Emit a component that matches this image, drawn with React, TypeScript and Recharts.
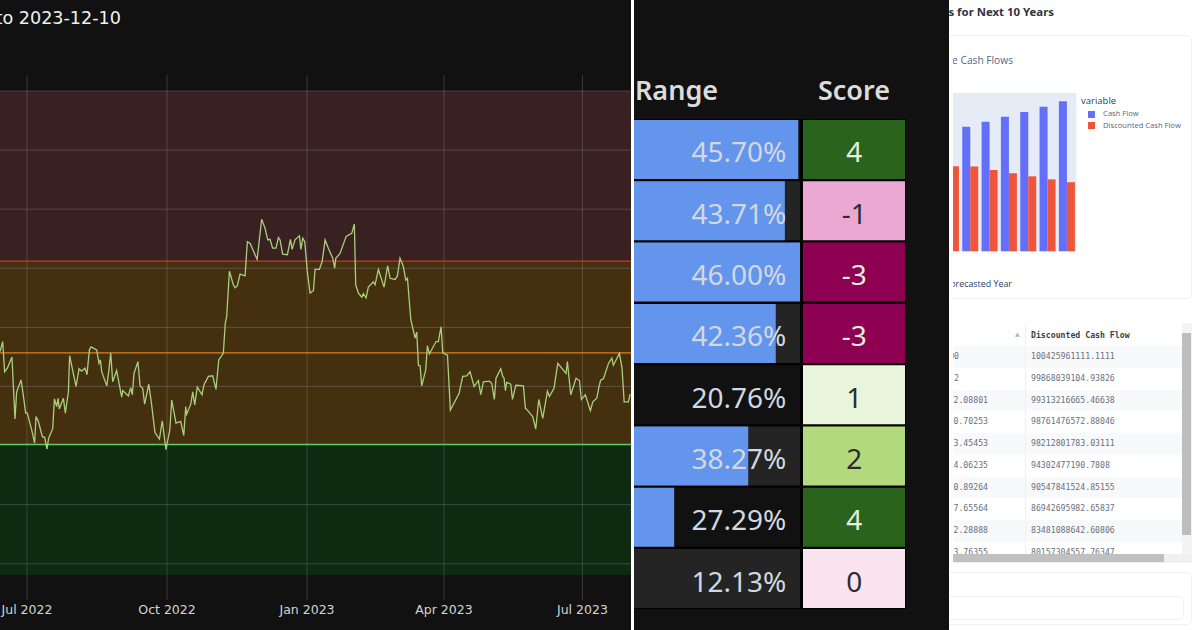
import {
  Bar,
  BarChart,
  CartesianGrid,
  Cell,
  ComposedChart,
  LabelList,
  Legend,
  Line,
  ReferenceArea,
  ReferenceLine,
  XAxis,
  YAxis,
} from "recharts";

// left panel: days counted from 2022-07-01, value of the tracked ratio
const dayOffsets = [
  -17.7, -16, -14.7, -12.9, -9.9, -7.9, -6.8, -3.9, -2, -0.9, 0.2, 3.1, 5, 5.9, 7.4, 10.1, 11.6, 13.1, 14.2, 16.9,
  18, 19.5, 20.4, 21.2, 23.9, 25.2, 27.2, 28, 32.2, 34.2, 35.9, 38.1, 39.4, 41, 42.1, 45.8, 47.3, 48.2, 49.1, 52.4,
  53.7, 55, 56.3, 58.9, 62.2, 62.9, 66.6, 68.1, 69.2, 70.3, 72.9, 74.3, 76, 77.3, 80, 81.9, 84.1, 87, 88.9, 91.3,
  93.8, 95.1, 97.9, 101, 103, 104.3, 104.9, 107.6, 108.9, 110.2, 111.9, 115, 116.3, 119.2, 122, 124.2, 126, 129,
  130.3, 131.2, 133, 135.6, 136.7, 138.2, 140, 143.3, 144.8, 146.6, 151.2, 154.2, 156.4, 158.2, 159.7, 161.4, 163.6,
  165.2, 166.3, 168, 171.1, 173.1, 174.2, 176.1, 179, 180, 181.2, 182.5, 184.2, 186, 188.2, 189.3, 192.1, 193.9,
  195.9, 198, 200.9, 202.2, 202.9, 205.7, 209.7, 213.4, 215.1, 216, 217.8, 220, 221, 222.8, 224.3, 227.6, 228.7,
  230.9, 234.6, 237, 238.6, 241.9, 243.4, 245.1, 247.3, 248.9, 250, 252.2, 255, 256.1, 257.2, 258.3, 259.4, 262,
  263.1, 264.4, 268.8, 270.3, 272.1, 273.2, 276.3, 278.2, 283.9, 286.3, 289, 291.1, 293.8, 296.6, 298.2, 299.9,
  303.9, 305.4, 307.1, 308.2, 311.3, 312.6, 313.5, 314.4, 315.2, 317.9, 319, 321.2, 326.2, 327.5, 328.8, 332.3,
  334.3, 336.3, 338.9, 342, 343.3, 346.3, 348.8, 354.2, 355.1, 357.3, 360.8, 363, 364.3, 366.9, 370.2, 371.8, 374.4,
  375.9, 377, 378.8, 382.1, 384.3, 385.3, 389.3, 391, 392.4, 395.2, 396.3,
];
const ratioValues = [
  35.9, 37.6, 32.5, 33.1, 35, 24.5, 29.1, 31.1, 27.7, 25.5, 25.5, 22.6, 20.4, 24.9, 24.1, 21.5, 21.4, 19.4, 21.2, 22.9,
  27.9, 26.6, 28, 26.2, 28, 25.5, 29.1, 35.2, 30, 33, 32.6, 33.1, 32, 36.2, 36.7, 36.2, 33.9, 34.5, 32.5, 30.1,
  32.5, 35.7, 30.8, 32.7, 28.2, 29.3, 28.4, 29.8, 28.6, 32.2, 34.2, 30.1, 29.7, 27, 30.4, 26.9, 22.2, 21.1, 24.2, 19.3,
  22.6, 27.7, 23.8, 24.1, 21.7, 26.6, 25.3, 27, 29.1, 26.9, 29.9, 28.6, 30.3, 31.7, 31.8, 29.5, 34.5, 35.6,
  40.7, 41.8, 49.5, 47.2, 46.7, 47, 49, 48.7, 54.5, 54.2, 51.5, 58.3, 56.8, 54.8, 54.9, 53.4, 53.4,
  55.2, 54.8, 52.4, 52.3, 54.9, 53.2, 54.8, 55.5, 53.2, 55.1, 54.5, 49.4, 45.8, 46.2, 49.8, 49.8, 51.1,
  54.8, 53.4, 51.7, 50, 51.7, 52.5, 55.4, 55.9, 57.5, 47.2, 45.8, 45.1, 45.7, 45, 46.8, 47.7, 47.2,
  49.8, 46.8, 50.4, 48.3, 48.1, 48.7, 51.7, 50.3, 48, 48.3, 41.3, 38.2, 39.2, 33.6, 33.5, 30.1, 32.8,
  36.9, 35.5, 37.6, 37.6, 40.1, 35.7, 35.3, 26, 28.8, 31.7, 31.8, 32.5, 30, 31, 28.6, 30.8,
  30.9, 30.5, 27.8, 31.4, 33, 31.7, 31.4, 29.3, 30.7, 30.4, 27.8, 30.2, 30.1, 26.3, 26, 24.9,
  22.8, 27.8, 24.6, 29.2, 28.3, 29.7, 33.9, 32.2, 34.2, 28.6, 31.4, 31, 27.8, 28.6, 25.9, 27.4, 28,
  30, 31.1, 31.3, 33.9, 34.8, 33.6, 35.6, 33.1, 27.4, 27.4, 28.7,
];
const dateTicks = [0, 92, 184, 274, 365];
const dateLabels = ["Jul 2022", "Oct 2022", "Jan 2023", "Apr 2023", "Jul 2023"];
const valueTicks = [0, 10, 20, 30, 40, 50, 60, 70, 80];
const upperLevel = 51.2;
const middleLevel = 35.7;
const lowerLevel = 20.2;
const bandTop = 80;
const bandBottom = -1.9;

// middle panel
const rangeValues = [45.7, 43.71, 46.0, 42.36, 20.76, 38.27, 27.29, 12.13];
const scoreValues = [4, -1, -3, -3, 1, 2, 4, 0];
const scoreColors: Record<string, string> = {
  "4": "#2a641c",
  "2": "#b2da7c",
  "1": "#e9f5da",
  "0": "#fce3f0",
  "-1": "#eaa8d2",
  "-3": "#8e0152",
};
const rowShades = ["#111111", "#242424", "#111111", "#242424", "#111111", "#242424", "#111111", "#242424"];

// right panel
const years = ["2024", "2025", "2026", "2027", "2028", "2029", "2030", "2031", "2032", "2033"];
const cashFlow = [109.5e9, 119.5e9, 129e9, 137e9, 144.5e9, 150.3e9, 156e9, 161.6e9, 167.8e9, 174e9];
const discountedFlow = [
  100425961111.1111, 99868039104.93826, 99313216665.46638, 98761476572.88046, 98212801783.03111, 94302477190.7808,
  90547841524.85155, 86942695982.65837, 83481088642.60806, 80157304557.76347,
];
const discountedText = [
  "100425961111.1111",
  "99868039104.93826",
  "99313216665.46638",
  "98761476572.88046",
  "98212801783.03111",
  "94302477190.7808",
  "90547841524.85155",
  "86942695982.65837",
  "83481088642.60806",
  "80157304557.76347",
];
const cashFlowTails = ["00", ".2", "2.08801", "0.70253", "3.45453", "4.06235", "0.89264", "7.65564", "2.28888", "3.76355"];

const lineData = dayOffsets.map((day, i) => ({ day, ratio: ratioValues[i] }));
const rangeData = rangeValues.map((range, i) => ({
  row: i,
  range,
  full: 46,
  shade: rowShades[i],
}));
const scoreData = scoreValues.map((score, i) => ({ row: i, score, cell: 1 }));
const flowData = years.map((year, i) => ({
  year,
  "Cash Flow": cashFlow[i],
  "Discounted Cash Flow": discountedFlow[i],
}));

const grid = "rgba(170,180,225,0.25)";
const monoFont = "'DejaVu Sans Mono', monospace";

function RangeLabel(props: any) {
  const { x, y, width, height, value } = props;
  return (
    <text
      x={x + width - 14}
      y={y + height / 2 + 2}
      textAnchor="end"
      dominantBaseline="central"
      fontFamily="Noto Sans"
      fontSize={28}
      fill="#d3d8e0"
    >
      {value.toFixed(2)}%
    </text>
  );
}

function ScoreLabel(props: any) {
  const { x, y, width, height, value } = props;
  const dark = value === 4 || value === -3;
  return (
    <text
      x={x + width / 2}
      y={y + height / 2 + 2}
      textAnchor="middle"
      dominantBaseline="central"
      fontFamily="Noto Sans"
      fontSize={28}
      fill={dark ? "#e6ecdf" : "#2c2c34"}
    >
      {value}
    </text>
  );
}

function YearTick(props: any) {
  const { x, y, payload } = props;
  if (x < 953) return null;
  return (
    <text
      transform={`translate(${x},${y}) rotate(-90)`}
      textAnchor="end"
      dominantBaseline="central"
      fontFamily="Open Sans"
      fontSize={8}
      fill="#506784"
    >
      {payload.value}
    </text>
  );
}

function RatioPanel() {
  return (
    <div style={{ position: "absolute", left: 0, top: 0, width: 631, height: 630, background: "#111111", overflow: "hidden" }}>
      <div
        style={{
          position: "absolute",
          right: 510,
          top: 8,
          whiteSpace: "nowrap",
          fontFamily: "DejaVu Sans",
          fontSize: 17.6,
          color: "#f0f0f0",
        }}
      >
        to 2023-12-10
      </div>
      <ComposedChart width={631} height={630} data={lineData} margin={{ top: 75, right: 0, bottom: 0, left: 0 }}>
        <CartesianGrid stroke={grid} strokeWidth={1} syncWithTicks horizontal={false} verticalValues={dateTicks} />
        <XAxis
          dataKey="day"
          type="number"
          domain={[-17.75, 396.9]}
          ticks={dateTicks}
          tickFormatter={(d: number) => dateLabels[dateTicks.indexOf(d)]}
          height={30}
          axisLine={false}
          tickLine={false}
          tickMargin={-1}
          interval={0}
          tick={{ fill: "#d4d4d4", fontSize: 12.5, fontFamily: "DejaVu Sans" }}
        />
        <YAxis type="number" domain={[-6.13, 82.7]} hide />
        <ReferenceArea y1={upperLevel} y2={bandTop} fill="rgb(255,111,117)" fillOpacity={0.17} stroke="none" />
        <ReferenceArea y1={lowerLevel} y2={upperLevel} fill="rgb(249,158,8)" fillOpacity={0.22} stroke="none" />
        <ReferenceArea y1={bandBottom} y2={lowerLevel} fill="rgb(0,164,11)" fillOpacity={0.17} stroke="none" />
        {valueTicks.map((v) => (
          <ReferenceLine key={v} y={v} stroke={grid} strokeWidth={1} />
        ))}
        <ReferenceLine y={upperLevel} stroke="#c93a24" strokeWidth={1.2} />
        <ReferenceLine y={middleLevel} stroke="#dc821c" strokeWidth={1.2} />
        <ReferenceLine y={lowerLevel} stroke="#62c765" strokeWidth={1.2} />
        <Line
          dataKey="ratio"
          type="linear"
          stroke="#a9cf7d"
          strokeWidth={1.3}
          dot={false}
          isAnimationActive={false}
        />
      </ComposedChart>
    </div>
  );
}

function ScorePanel() {
  const heading = {
    position: "absolute" as const,
    top: 72,
    fontFamily: "Noto Sans",
    fontWeight: 600,
    fontSize: 27,
    lineHeight: "36px",
    color: "#dcdcdc",
    whiteSpace: "nowrap" as const,
  };
  return (
    <div style={{ position: "absolute", left: 634, top: 0, width: 315, height: 630, background: "#111111", overflow: "hidden" }}>
      <div style={{ ...heading, left: 1 }}>Range</div>
      <div style={{ ...heading, left: 169, width: 102, textAlign: "center" }}>Score</div>
      <div style={{ position: "absolute", left: 0, top: 119, width: 272, height: 490, background: "#020202" }} />
      <div style={{ position: "absolute", left: -62, top: 119 }}>
        <BarChart
          layout="vertical"
          width={228.3}
          height={490.4}
          data={rangeData}
          barSize={59}
          barGap={-59}
          margin={{ top: 0, right: 0, bottom: 0, left: 0 }}
        >
          <XAxis type="number" domain={[12.13, 46]} hide />
          <YAxis type="category" dataKey="row" hide />
          <Bar dataKey="full" isAnimationActive={false}>
            {rangeData.map((d) => (
              <Cell key={d.row} fill={d.shade} />
            ))}
          </Bar>
          <Bar dataKey="range" fill="#6495ed" isAnimationActive={false} />
          <Bar dataKey="full" fill="transparent" isAnimationActive={false}>
            <LabelList dataKey="range" content={RangeLabel} />
          </Bar>
        </BarChart>
      </div>
      <div style={{ position: "absolute", left: 168.7, top: 119 }}>
        <BarChart
          layout="vertical"
          width={102.6}
          height={490.4}
          data={scoreData}
          barSize={59}
          margin={{ top: 0, right: 0, bottom: 0, left: 0 }}
        >
          <XAxis type="number" domain={[0, 1]} hide />
          <YAxis type="category" dataKey="row" hide />
          <Bar dataKey="cell" isAnimationActive={false}>
            {scoreData.map((d) => (
              <Cell key={d.row} fill={scoreColors[String(d.score)]} />
            ))}
            <LabelList dataKey="score" content={ScoreLabel} />
          </Bar>
        </BarChart>
      </div>
    </div>
  );
}

function FlowChart() {
  return (
    <div style={{ position: "absolute", left: 953, top: 50, width: 239, height: 245, overflow: "hidden" }}>
      <div
        style={{
          position: "absolute",
          right: 179,
          top: 3,
          whiteSpace: "nowrap",
          fontFamily: "Open Sans",
          fontSize: 10.2,
          color: "#506784",
        }}
      >
        e Cash Flows
      </div>
      <div style={{ position: "absolute", left: -70.4, top: 43 }}>
        <BarChart
          width={309.4}
          height={200}
          data={flowData}
          barCategoryGap="10%"
          barGap={0}
          margin={{ top: 0, right: 116.1, bottom: 0, left: 0 }}
        >
          <CartesianGrid fill="#e5ecf6" stroke="none" vertical={false} horizontal={false} />
          <XAxis
            dataKey="year"
            height={41.7}
            interval={0}
            axisLine={false}
            tickLine={false}
            tickMargin={1}
            tick={YearTick}
          />
          <YAxis type="number" domain={[0, 183.6e9]} hide />
          <Legend
            layout="vertical"
            align="center"
            verticalAlign="middle"
            iconType="square"
            iconSize={7}
            wrapperStyle={{ left: 205.5, top: 15, width: 110, lineHeight: "10.5px", fontSize: 7.6 }}
            formatter={(value: string) => (
              <span style={{ color: "#506784", fontFamily: "Open Sans", fontSize: 7.6, marginLeft: 4 }}>{value}</span>
            )}
          />
          <Bar dataKey="Cash Flow" fill="#636efa" isAnimationActive={false} />
          <Bar dataKey="Discounted Cash Flow" fill="#ef553b" isAnimationActive={false} />
        </BarChart>
      </div>
      <div
        style={{
          position: "absolute",
          right: 180,
          top: 227,
          whiteSpace: "nowrap",
          fontFamily: "Open Sans",
          fontSize: 8.9,
          color: "#2a3f5f",
        }}
      >
        Forecasted Year
      </div>
      <div style={{ position: "absolute", left: 128, top: 44, fontFamily: "Open Sans", fontSize: 9.5, color: "#2a3f5f" }}>
        variable
      </div>
    </div>
  );
}

function FlowTable() {
  const rowHeight = 21.75;
  return (
    <div style={{ position: "absolute", left: 953, top: 323, width: 239, height: 240, overflow: "hidden" }}>
      <div style={{ position: "absolute", left: 0, top: 0, width: 229, height: 23, borderBottom: "1px solid #eef0f3" }} />
      <div style={{ position: "absolute", left: 62, top: 7, fontSize: 6, fontFamily: "DejaVu Sans", color: "#b0b4bb" }}>▲</div>
      <div
        style={{
          position: "absolute",
          left: 78,
          top: 7,
          fontFamily: monoFont,
          fontSize: 8.2,
          fontWeight: 700,
          color: "#3a3f47",
          whiteSpace: "nowrap",
        }}
      >
        Discounted Cash Flow
      </div>
      {discountedText.map((text, i) => (
        <div
          key={text}
          style={{
            position: "absolute",
            left: 0,
            top: 23 + i * rowHeight,
            width: 229,
            height: rowHeight,
            lineHeight: `${rowHeight}px`,
            background: i % 2 === 0 ? "#f8f9fb" : "#ffffff",
            fontFamily: monoFont,
            fontSize: 8.2,
            color: "#6a717b",
          }}
        >
          <span style={{ position: "absolute", right: i < 2 ? 223 : 194, whiteSpace: "nowrap" }}>{cashFlowTails[i]}</span>
          <span style={{ position: "absolute", left: 78, whiteSpace: "nowrap" }}>{text}</span>
        </div>
      ))}
      <div style={{ position: "absolute", left: 72, top: 0, width: 1, height: 231, background: "#eef0f3" }} />
      <div style={{ position: "absolute", left: 229, top: 0, width: 10, height: 231, background: "#f4f4f4" }} />
      <div style={{ position: "absolute", left: 229, top: 10, width: 9, height: 202, background: "#bdbdbd" }} />
      <div style={{ position: "absolute", left: 0, top: 231, width: 239, height: 9, background: "#f0f0f0" }} />
      <div style={{ position: "absolute", left: 0, top: 231, width: 211, height: 8, background: "#c0c0c0" }} />
    </div>
  );
}

function CashPanel() {
  const card = { position: "absolute" as const, boxSizing: "border-box" as const, border: "1px solid #f0f1f3", borderRadius: 5 };
  return (
    <div style={{ position: "absolute", left: 949, top: 0, width: 251, height: 630, background: "#ffffff", overflow: "hidden" }}>
      <div
        style={{
          position: "absolute",
          right: 146,
          top: 4,
          whiteSpace: "nowrap",
          fontFamily: "Noto Sans",
          fontWeight: 700,
          fontSize: 11.4,
          color: "#31333f",
        }}
      >
        s for Next 10 Years
      </div>
      <div style={{ ...card, left: -10, top: 35, width: 253, height: 264 }} />
      <div style={{ ...card, left: -10, top: 572, width: 253, height: 53 }} />
      <div style={{ ...card, left: -10, top: 596, width: 245, height: 24, borderRadius: 6 }} />
    </div>
  );
}

export default function App() {
  return (
    <div style={{ position: "absolute", left: 0, top: 0, width: 1200, height: 630, background: "#ffffff", overflow: "hidden" }}>
      <RatioPanel />
      <ScorePanel />
      <CashPanel />
      <FlowChart />
      <FlowTable />
    </div>
  );
}
